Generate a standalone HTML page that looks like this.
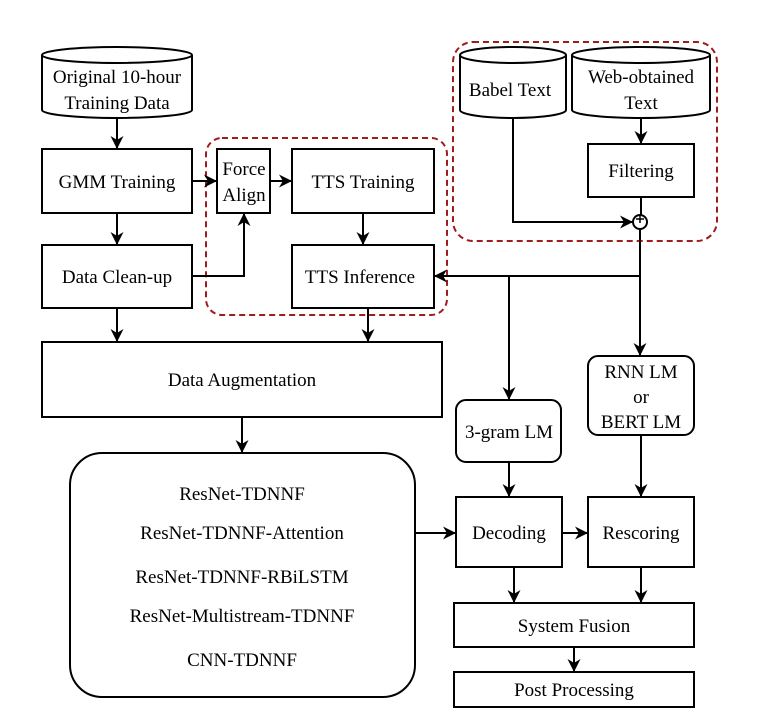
<!DOCTYPE html>
<html><head><meta charset="utf-8"><style>
html,body{margin:0;padding:0;background:#fff}
svg{display:block}
svg text{font-family:'Liberation Serif','Times New Roman',Times,serif;font-size:19px;fill:#000;text-anchor:middle}
</style></head><body>
<svg width="759" height="727" viewBox="0 0 759 727" xmlns="http://www.w3.org/2000/svg" font-family="Liberation Serif, serif">
<defs>
<marker id="a" viewBox="0 0 10 10" refX="10" refY="5" markerWidth="13" markerHeight="13" orient="auto" markerUnits="userSpaceOnUse"><path d="M0,0 L10,5 L0,10 L3,5 Z" fill="#000"/></marker>
</defs>
<g fill="none" stroke="#000" stroke-width="2">
<rect x="206" y="138" width="241" height="177" rx="16" stroke="#a01c1c" stroke-dasharray="6,4"/>
<rect x="453" y="42" width="264" height="199" rx="20" stroke="#a01c1c" stroke-dasharray="6,4"/>
<path d="M42,55 A75,8 0 0 1 192,55 L192,110 A75,8 0 0 1 42,110 Z" fill="#fff"/>
<path d="M42,55 A75,8 0 0 0 192,55"/>
<path d="M460,55 A53,8 0 0 1 566,55 L566,110 A53,8 0 0 1 460,110 Z" fill="#fff"/>
<path d="M460,55 A53,8 0 0 0 566,55"/>
<path d="M572,55 A69,8 0 0 1 710,55 L710,110 A69,8 0 0 1 572,110 Z" fill="#fff"/>
<path d="M572,55 A69,8 0 0 0 710,55"/>
<rect x="42" y="149" width="150" height="64"/>
<rect x="42" y="245" width="150" height="63"/>
<rect x="217" y="149" width="53" height="64"/>
<rect x="292" y="149" width="142" height="64"/>
<rect x="292" y="245" width="142" height="63"/>
<rect x="42" y="342" width="400" height="75"/>
<rect x="588" y="144" width="106" height="53"/>
<rect x="456" y="400" width="105" height="62" rx="10"/>
<rect x="588" y="356" width="106" height="79" rx="10"/>
<rect x="70" y="453" width="345" height="244" rx="32"/>
<rect x="456" y="497" width="106" height="70"/>
<rect x="588" y="497" width="106" height="70"/>
<rect x="454" y="603" width="240" height="44"/>
<rect x="454" y="672" width="240" height="35"/>
<circle cx="640" cy="222" r="7"/>
<path d="M636,219 l8,0 M640,215 l0,8" stroke-width="1.5"/>
<path d="M117,117 V149" marker-end="url(#a)"/>
<path d="M117,213 V245" marker-end="url(#a)"/>
<path d="M192,181 H217" marker-end="url(#a)"/>
<path d="M270,181 H292" marker-end="url(#a)"/>
<path d="M192,276 H244 V213" marker-end="url(#a)"/>
<path d="M363,213 V245" marker-end="url(#a)"/>
<path d="M117,308 V342" marker-end="url(#a)"/>
<path d="M368,308 V342" marker-end="url(#a)"/>
<path d="M641,117 V144" marker-end="url(#a)"/>
<path d="M513,117 V222 H633" marker-end="url(#a)"/>
<path d="M641,197 V215"/>
<path d="M640,229 V356" marker-end="url(#a)"/>
<path d="M640,276 H434" marker-end="url(#a)"/>
<path d="M509,276 V400" marker-end="url(#a)"/>
<path d="M242,417 V453" marker-end="url(#a)"/>
<path d="M509,462 V497" marker-end="url(#a)"/>
<path d="M641,435 V497" marker-end="url(#a)"/>
<path d="M415,533 H456" marker-end="url(#a)"/>
<path d="M562,533 H588" marker-end="url(#a)"/>
<path d="M514,567 V603" marker-end="url(#a)"/>
<path d="M641,567 V603" marker-end="url(#a)"/>
<path d="M574,647 V672" marker-end="url(#a)"/>
</g>
<text x="117" y="83">Original 10-hour</text>
<text x="117" y="109">Training Data</text>
<text x="510" y="96">Babel Text</text>
<text x="641" y="83">Web-obtained</text>
<text x="641" y="109">Text</text>
<text x="117" y="188">GMM Training</text>
<text x="117" y="283">Data Clean-up</text>
<text x="244" y="175">Force</text>
<text x="244" y="201">Align</text>
<text x="363" y="188">TTS Training</text>
<text x="360" y="283">TTS Inference</text>
<text x="641" y="177">Filtering</text>
<text x="242" y="386">Data Augmentation</text>
<text x="509" y="438">3-gram LM</text>
<text x="641" y="378">RNN LM</text>
<text x="641" y="403">or</text>
<text x="641" y="428">BERT LM</text>
<text x="242" y="500">ResNet-TDNNF</text>
<text x="242" y="539">ResNet-TDNNF-Attention</text>
<text x="242" y="583">ResNet-TDNNF-RBiLSTM</text>
<text x="242" y="622">ResNet-Multistream-TDNNF</text>
<text x="242" y="666">CNN-TDNNF</text>
<text x="509" y="539">Decoding</text>
<text x="641" y="539">Rescoring</text>
<text x="574" y="632">System Fusion</text>
<text x="574" y="696">Post Processing</text>
</svg>
</body></html>
